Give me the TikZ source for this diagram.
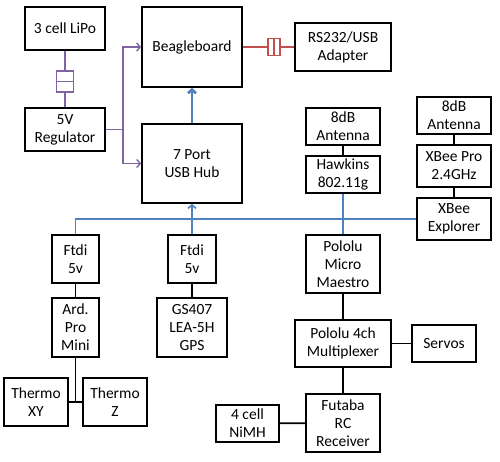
\documentclass[tikz,border=0pt]{standalone}
\usepackage{fontspec}
\setmainfont{Carlito}
\usetikzlibrary{arrows.meta}
\definecolor{ppl}{HTML}{8064A2}
\definecolor{bl}{HTML}{4F81BD}
\definecolor{rd}{HTML}{C0504D}
\begin{document}
\begin{tikzpicture}[x=1pt,y=-1pt,
  blk/.style={draw, line width=1.7pt, inner sep=0pt, align=center,
    font=\fontsize{15.5}{18}\selectfont},
  wire/.style={line width=1.7pt},
  purp/.style={draw=ppl, line width=1.4pt},
  blu/.style={draw=bl, line width=1.6pt},
  bluthick/.style={draw=bl, line width=2.8pt},
  barb/.style={-{Straight Barb[length=3.5pt,width=8pt]}},
  sz/.style 2 args={minimum width=#1pt, minimum height=#2pt}]
\useasboundingbox (0,0) rectangle (500,461);
% boxes
\node[blk, sz={80}{43}] (lipo) at (65,28.5) {3 cell LiPo};
\node[blk, sz={80}{43}] (reg) at (65,129.5) {5V\\Regulator};
\node[blk, sz={100}{80}] (beagle) at (192,47) {Beagleboard};
\node[blk, sz={100}{79}] (hub) at (192,163.5) {7 Port\\USB Hub};
\node[blk, sz={96}{48}] (rs) at (343,47) {RS232/USB\\Adapter};
\node[blk, sz={74}{37}] (ant1) at (343,126.5) {8dB\\Antenna};
\node[blk, sz={74}{37}] (hawk) at (343,174.5) {Hawkins\\802.11g};
\node[blk, sz={74}{37}] (ant2) at (454,115.5) {8dB\\Antenna};
\node[blk, sz={74}{42}] (xpro) at (454,166) {XBee Pro\\2.4GHz};
\node[blk, sz={74}{42}] (xexp) at (454,219) {XBee\\Explorer};
\node[blk, sz={47}{48}] (ftdi1) at (75.5,259) {Ftdi\\5v};
\node[blk, sz={47}{59}] (ard) at (75.5,327.5) {Ard.\\Pro\\Mini};
\node[blk, sz={48}{48}] (ftdi2) at (192,259) {Ftdi\\5v};
\node[blk, sz={70}{59}] (gps) at (192,327.5) {GS407\\LEA-5H\\GPS};
\node[blk, sz={64}{48}] (txy) at (36,402) {Thermo\\XY};
\node[blk, sz={64}{48}] (tz) at (115,402) {Thermo\\Z};
\node[blk, sz={74}{58}] (maestro) at (343,264) {Pololu\\Micro\\Maestro};
\node[blk, sz={96}{47}] (mux) at (343,343.5) {Pololu 4ch\\Multiplexer};
\node[blk, sz={64}{37}] (servos) at (444,343.5) {Servos};
\node[blk, sz={74}{58}] (futaba) at (343,423) {Futaba\\RC\\Receiver};
\node[blk, sz={63}{37}] (nimh) at (247.5,423.5) {4 cell\\NiMH};
% connector symbols
\node[draw=ppl, line width=1.4pt, inner sep=0pt, minimum width=17pt, minimum height=21pt] (pcon) at (65,81.5) {};
\draw[purp] (pcon.west) -- (pcon.east);
\node[draw=rd, line width=1.4pt, inner sep=0pt, minimum width=12pt, minimum height=17pt] (rcon) at (274,47) {};
\draw[draw=rd, line width=1.4pt] (rcon.north) -- (rcon.south);
% purple power wiring
\draw[purp] (lipo) -- (pcon);
\draw[purp] (pcon) -- (reg);
\coordinate (pj) at (123,129.5);
\draw[purp] (reg.east) -- (pj);
\draw[purp, barb] (pj) |- (beagle.west);
\draw[purp, barb] (pj) |- (hub.west);
% red serial
\draw[draw=rd, line width=1.4pt] (beagle.east |- rcon.west) -- (rcon.west);
\draw[draw=rd, line width=1.4pt] (rcon.east) -- (rs.west |- rcon.east);
% blue usb
\draw[bluthick, barb] (hub) -- (beagle);
\draw[blu, barb] (ftdi2) -- (hub);
\draw[blu] (ftdi1.north) |- (xexp.west);
\draw[blu] (hawk) -- (maestro);
% black wiring
\draw[wire] (ant1) -- (hawk);
\draw[wire] (ant2) -- (xpro);
\draw[wire] (xpro) -- (xexp);
\draw[wire] (ftdi1) -- (ard);
\draw[wire] (ftdi2) -- (gps);
\draw[wire] (ard.south) -- (ard.south |- txy.east);
\draw[wire] (txy.east) -- (tz.west);
\draw[wire] (maestro) -- (mux);
\draw[wire] (mux) -- (servos);
\draw[wire] (mux) -- (futaba);
\draw[wire] (nimh) -- (futaba);
\end{tikzpicture}
\end{document}
